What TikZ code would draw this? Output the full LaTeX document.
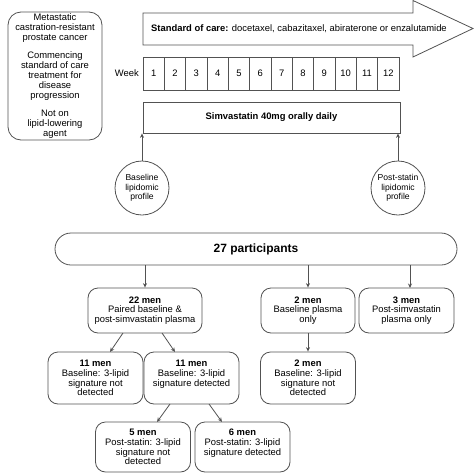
\documentclass[tikz,border=0pt]{standalone}
\usepackage{fontspec}
\setmainfont{Liberation Sans}
\usetikzlibrary{arrows.meta}
\begin{document}
\begin{tikzpicture}[x=1pt,y=-1pt,
  ln/.style={draw=black!68, line width=0.8pt},
  txt/.style={font=\fontsize{9.4}{9.8}\selectfont, align=center, inner sep=0pt},
  rbox/.style={ln, txt, rounded corners=10pt, minimum width=95pt, minimum height=45pt},
  cell/.style={ln, txt, minimum width=21.33pt, minimum height=33pt, anchor=center},
  circ/.style={ln, circle, minimum size=54pt, inner sep=0pt, align=center, font=\fontsize{8.6}{9.4}\selectfont},
  arr/.style={ln, -{Stealth[length=4.5pt,width=4pt]}}]
\useasboundingbox (0,0) rectangle (474,474);
% left criteria box
\node[ln, txt, rounded corners=13pt, minimum width=94pt, minimum height=128pt] (crit) at (55,76)
  {Metastatic\\castration-resistant\\prostate cancer\\[9pt]Commencing\\standard of care\\treatment for\\disease\\progression\\[9pt]Not on\\lipid-lowering\\agent};
% big arrow
\draw[ln] (143,13) -- (413,13) -- (413,0.5) -- (473,28.5) -- (413,57) -- (413,45) -- (143,45) -- cycle;
\node[txt, anchor=west] (soc) at (151,28.5) {\textbf{Standard of care:} docetaxel, cabazitaxel, abiraterone or enzalutamide};
% week row
\node[txt, anchor=east] (week) at (139,73.5) {Week};
\foreach \i in {1,...,12}{
  \node[cell] (w\i) at ({143+21.33*(\i-0.5)},73.5) {\i};
}
% simvastatin
\node[ln, txt, minimum width=257pt, minimum height=31pt] (simv) at (271.5,117.5) {\textbf{Simvastatin 40mg orally daily}};
% circles
\node[circ] (base) at (142,188) {Baseline\\lipidomic\\profile};
\node[circ] (post) at (398,188) {Post-statin\\lipidomic\\profile};
\draw[arr] (base.north) -- (base.north |- simv.south);
\draw[arr] (post.north) -- (post.north |- simv.south);
% participants
\node[ln, rounded corners=16pt, minimum width=402pt, minimum height=32pt, inner sep=0pt, font=\fontsize{12}{14}\selectfont\bfseries] (all) at (256,249) {27 participants};
\node[rbox, minimum width=114pt] (m22) at (145,310.5) {\textbf{22 men}\\Paired baseline \&\\post-simvastatin plasma};
\node[rbox, minimum width=94pt] (m2) at (308,310.5) {\textbf{2 men}\\Baseline plasma\\only};
\node[rbox] (m3) at (406.5,310.5) {\textbf{3 men}\\Post-simvastatin\\plasma only};
\coordinate (m3in) at (410,288);
\draw[arr] (all.south -| m22.north) -- (m22.north);
\draw[arr] (all.south -| m2.north) -- (m2.north);
\draw[arr] (all.south -| m3in) -- (m3in);
% row 2
\node[rbox, minimum height=52pt] (m11a) at (95.5,378) {\textbf{11 men}\\Baseline: 3-lipid\\signature not\\detected};
\node[rbox, minimum height=52pt] (m11b) at (191.5,378) {\textbf{11 men}\\Baseline: 3-lipid\\signature detected\\\mbox{}};
\node[rbox, minimum height=52pt] (m2b) at (308,378) {\textbf{2 men}\\Baseline: 3-lipid\\signature not\\detected};
\draw[arr] (123,333) -- (110,352);
\draw[arr] (162,333) -- (175,352);
\draw[arr] (m2.south) -- (m2b.north);
% row 3
\node[rbox, minimum height=50pt] (m5) at (143,447) {\textbf{5 men}\\Post-statin: 3-lipid\\signature not\\detected};
\node[rbox, minimum height=50pt] (m6) at (242.5,447) {\textbf{6 men}\\Post-statin: 3-lipid\\signature detected\\\mbox{}};
\draw[arr] (170,404) -- (157,422);
\draw[arr] (209,404) -- (222,422);
\end{tikzpicture}
\end{document}
